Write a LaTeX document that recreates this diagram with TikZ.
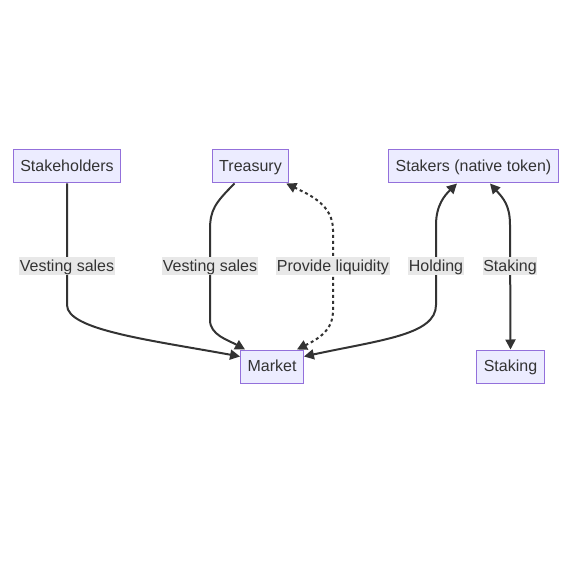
\documentclass[tikz,border=0pt]{standalone}
\usepackage{fontspec}
\setmainfont{Liberation Sans}
\usetikzlibrary{arrows.meta}
\definecolor{boxfill}{HTML}{ECECFF}
\definecolor{boxline}{HTML}{9370DB}
\definecolor{ink}{HTML}{333333}
\definecolor{labfill}{HTML}{E8E8E8}
\tikzset{
  box/.style={rectangle, draw=boxline, fill=boxfill, line width=1pt, minimum height=33pt, inner xsep=7pt, text height=12.5pt, text depth=2.5pt, text=ink, font=\fontsize{16pt}{19pt}\selectfont},
  lab/.style={rectangle, fill=labfill, inner xsep=0.5pt, inner ysep=1pt, text height=13pt, text depth=2.5pt, text=ink, font=\fontsize{16pt}{19pt}\selectfont},
  flow/.style={draw=ink, line width=2pt, -{Triangle[length=10pt,width=10pt]}},
  both/.style={draw=ink, line width=2pt, {Triangle[length=10pt,width=10pt]}-{Triangle[length=10pt,width=10pt]}},
}
\begin{document}
\begin{tikzpicture}[x=1pt,y=-1pt]
\useasboundingbox (0,0) rectangle (569,569);
\node[box] (stakeholders) at (67,166.5){Stakeholders};
\node[box] (treasury) at (250.5,166.5){Treasury};
\node[box] (stakers) at (473.5,166.5){Stakers (native token)};
\node[box] (market) at (272,366.5){Market};
\node[box] (staking) at (510.5,366.5){Staking};
\draw[flow](stakeholders.south) -- (67,305) .. controls (67,330) and (150,340) .. ([yshift=-7pt]market.north west);
\draw[flow]([xshift=-16pt]treasury.south) .. controls (215,203) and (210,210) .. (210,230) -- (210,320) .. controls (210,335) and (228,340) .. ([xshift=5pt]market.north west);
\draw[both, dash pattern=on 3pt off 3pt]([xshift=-7pt]market.north east) .. controls (320,338) and (333,330) .. (333,310) -- (333,230) .. controls (333,205) and (310,195) .. ([xshift=-3pt]treasury.south east);
\draw[both]([yshift=-7pt]market.north east) .. controls (380,340) and (436,335) .. (436,305) -- (436,225) .. controls (436,205) and (445,195) .. ([xshift=-16.5pt]stakers.south);
\draw[both]([xshift=16.5pt]stakers.south) .. controls (503,198) and (510,205) .. (510,225) -- (staking.north);
\node[lab] (vest1) at (67,266){Vesting sales};
\node[lab] (vest2) at (210,266){Vesting sales};
\node[lab] (liquid) at (333,266){Provide liquidity};
\node[lab] (hold) at (436,266){Holding};
\node[lab] (stake) at (510,266){Staking};
\end{tikzpicture}
\end{document}
